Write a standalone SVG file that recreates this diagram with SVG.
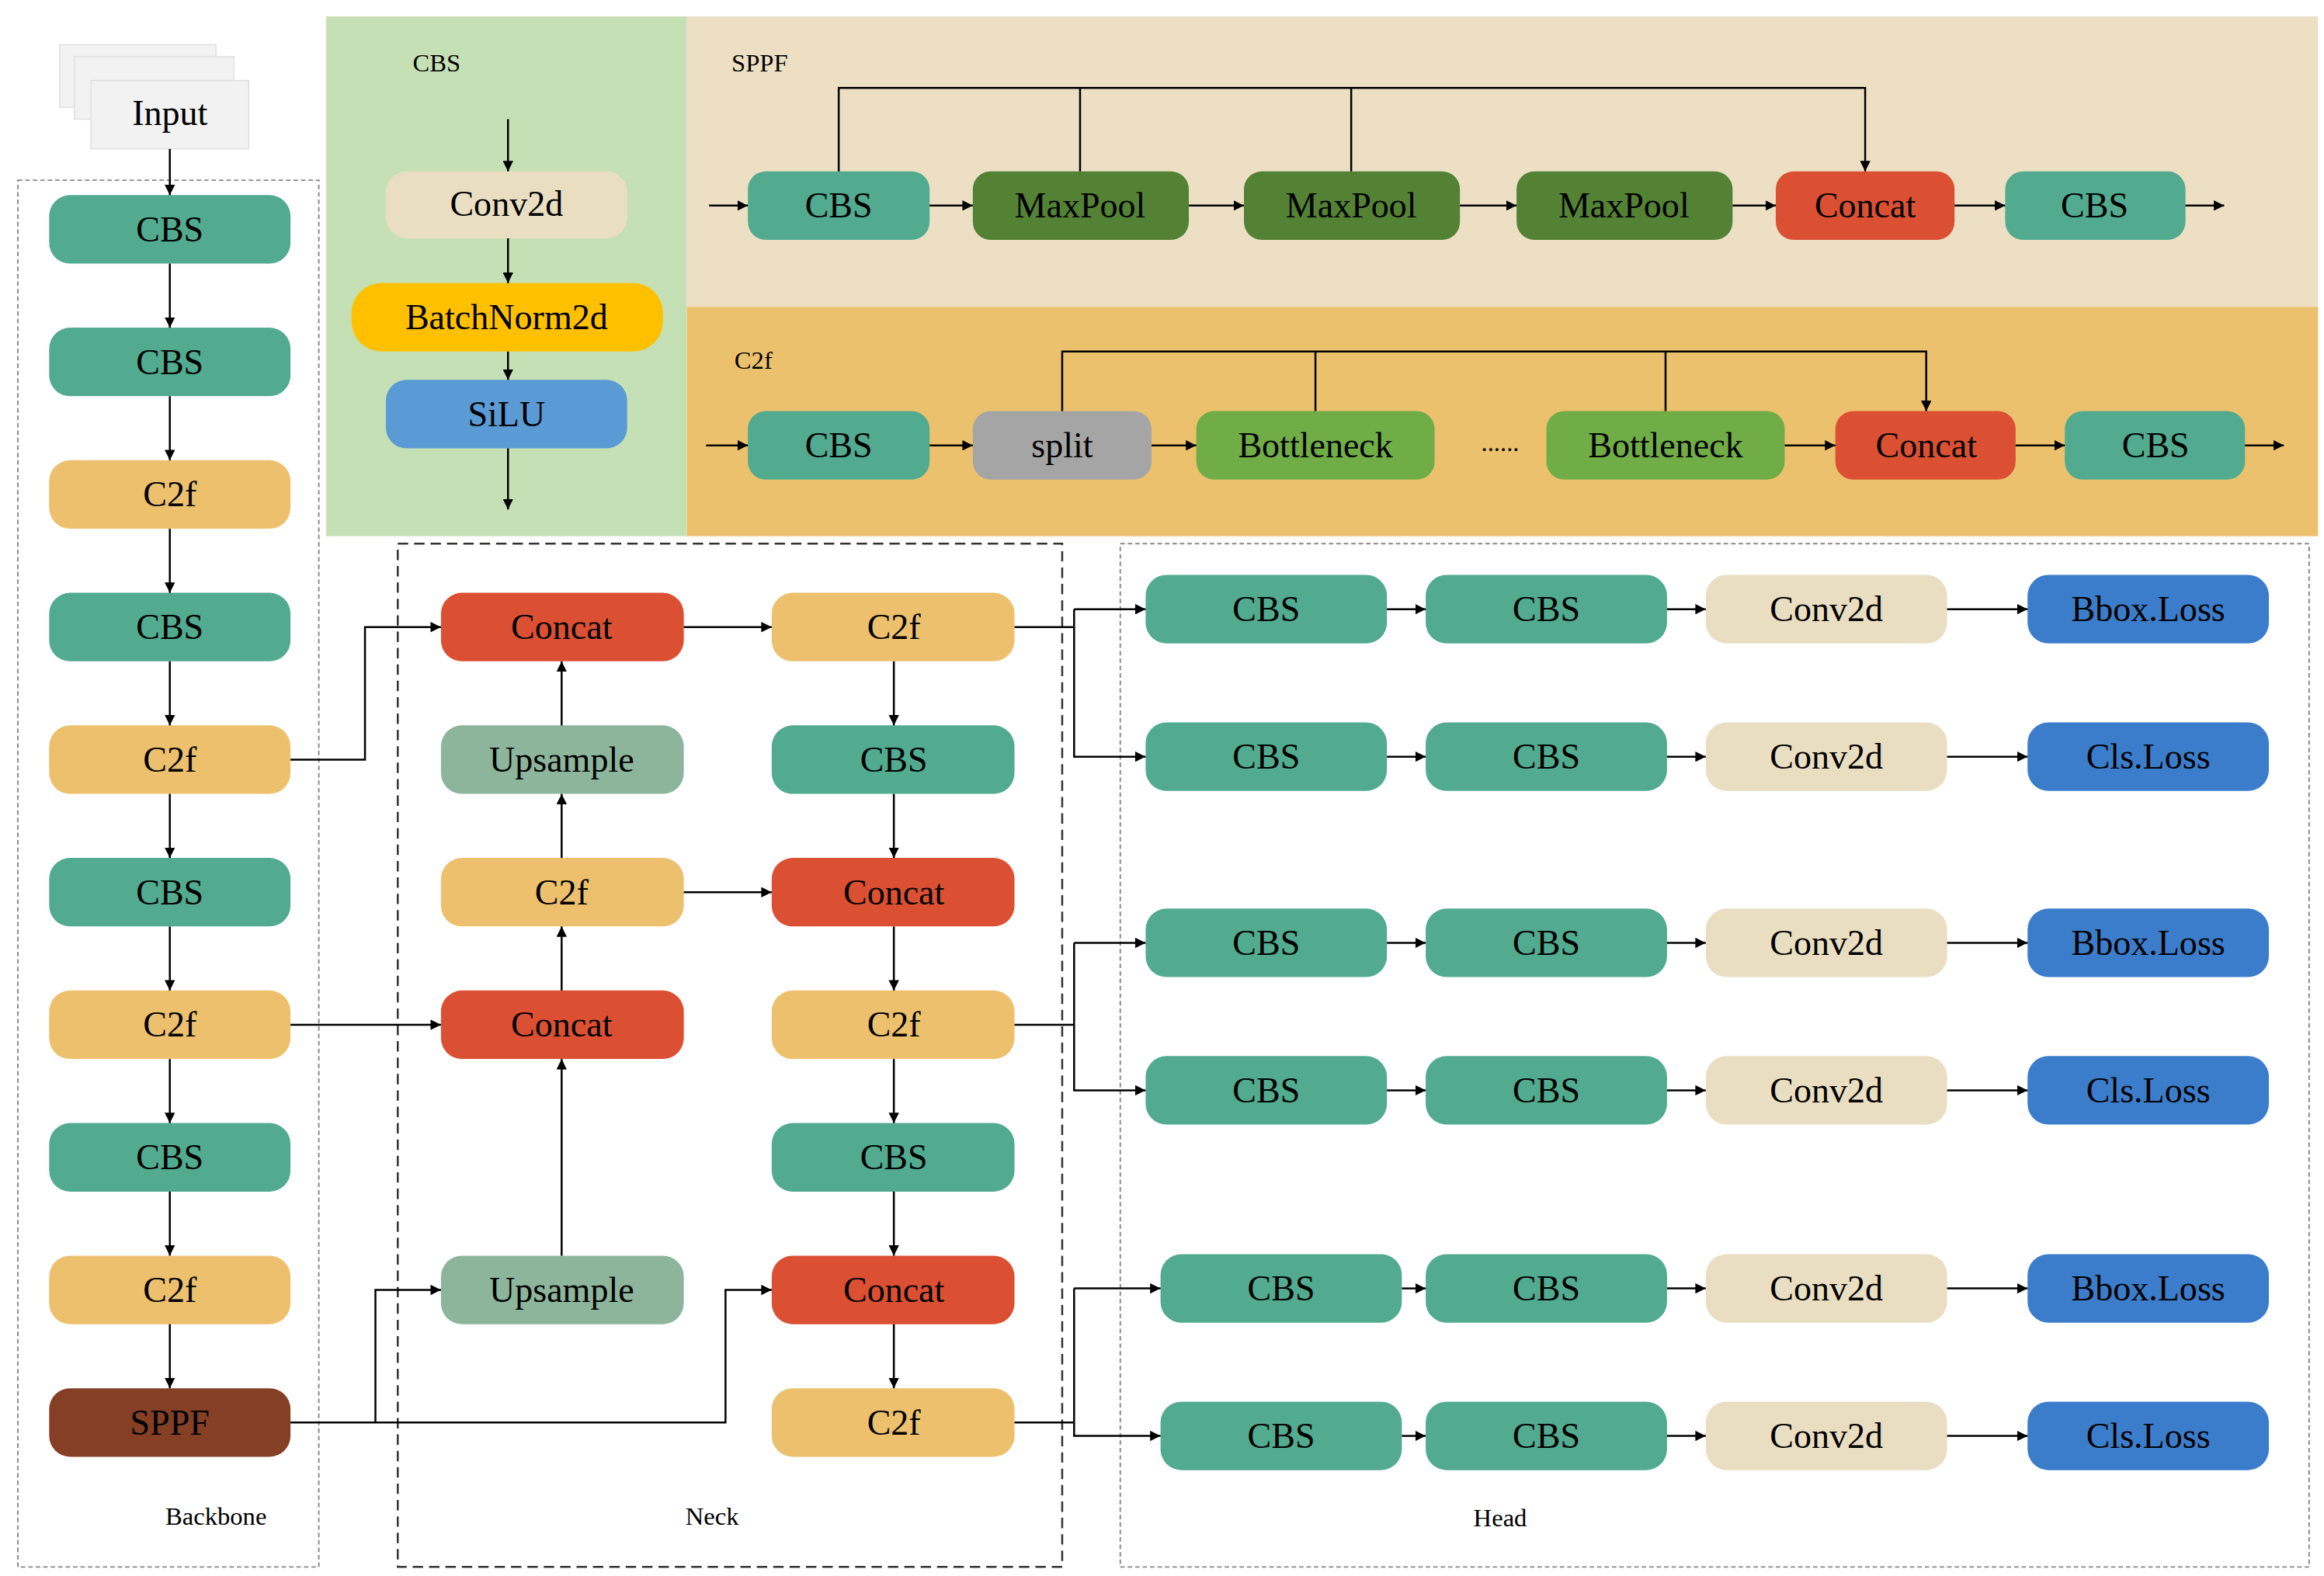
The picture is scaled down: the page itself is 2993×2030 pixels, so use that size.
<svg xmlns="http://www.w3.org/2000/svg" width="2993" height="2030" viewBox="0 0 2993 2030">
<defs>
<marker id="ah" viewBox="0 0 10 10" refX="10" refY="5" markerWidth="7" markerHeight="7" markerUnits="userSpaceOnUse" orient="auto"><path d="M0,0 L10,5 L0,10 z" fill="#000"/></marker>
<style>
text{font-family:"Liberation Serif",serif;fill:#000;text-anchor:middle;dominant-baseline:central}
.t{font-size:24px}
.s{font-size:17px;text-anchor:start}
.c{font-size:17px}
.cbs{fill:#52AB8F}.c2f{fill:#EDC06E}.cat{fill:#DB5033}.up{fill:#8DB59B}.cv{fill:#EADEC2}.bn{fill:#FFC000}.si{fill:#5B9BD5}.ls{fill:#3C7DCB}.mp{fill:#548235}.sp{fill:#A5A5A5}.bt{fill:#70AD47}.sppf{fill:#843F25}
.l{stroke:#000;stroke-width:1.3;fill:none}
.a{stroke:#000;stroke-width:1.3;fill:none;marker-end:url(#ah)}
.d{stroke:#888;stroke-width:1;fill:none;stroke-dasharray:3,2}
.dk{stroke:#333;stroke-width:1.3;fill:none;stroke-dasharray:7,4}
</style>
</defs>
<rect width="2993" height="2030" fill="#fff"/>
<g transform="scale(1.9186)">
<g id="panels">
<rect x="219" y="11" width="242" height="349" fill="#C5E0B4"/>
<rect x="461" y="11" width="1095" height="195" fill="#EDDFC4"/>
<rect x="461" y="206" width="1095" height="154" fill="#ECC16D"/>
<text class="s" x="277" y="42">CBS</text>
<text class="s" x="491" y="42">SPPF</text>
<text class="s" x="493" y="242">C2f</text>
<rect class="d" x="12" y="121" width="202" height="931"/>
<rect class="dk" x="267" y="365" width="446" height="687"/>
<rect class="d" x="752" y="365" width="798" height="687"/>
<text class="c" x="145" y="1018">Backbone</text>
<text class="c" x="478" y="1018">Neck</text>
<text class="c" x="1007" y="1019">Head</text>
</g>
<g id="input">
<rect x="40" y="30" width="105" height="42" fill="#F2F2F2" stroke="#ddd" stroke-width="0.7"/>
<rect x="50" y="38" width="107" height="42" fill="#F2F2F2" stroke="#ddd" stroke-width="0.7"/>
<rect x="61" y="54" width="106" height="46" fill="#F2F2F2" stroke="#ddd" stroke-width="0.7"/>
<text class="t" x="114" y="76">Input</text>
</g>
<g id="backbone">
<g id="b1"><rect class="cbs" x="33" y="131" width="162" height="46" rx="14"/><text class="t" x="114" y="154">CBS</text></g>
<g id="b2"><rect class="cbs" x="33" y="220" width="162" height="46" rx="14"/><text class="t" x="114" y="243">CBS</text></g>
<g id="b3"><rect class="c2f" x="33" y="309" width="162" height="46" rx="14"/><text class="t" x="114" y="332">C2f</text></g>
<g id="b4"><rect class="cbs" x="33" y="398" width="162" height="46" rx="14"/><text class="t" x="114" y="421">CBS</text></g>
<g id="b5"><rect class="c2f" x="33" y="487" width="162" height="46" rx="14"/><text class="t" x="114" y="510">C2f</text></g>
<g id="b6"><rect class="cbs" x="33" y="576" width="162" height="46" rx="14"/><text class="t" x="114" y="599">CBS</text></g>
<g id="b7"><rect class="c2f" x="33" y="665" width="162" height="46" rx="14"/><text class="t" x="114" y="688">C2f</text></g>
<g id="b8"><rect class="cbs" x="33" y="754" width="162" height="46" rx="14"/><text class="t" x="114" y="777">CBS</text></g>
<g id="b9"><rect class="c2f" x="33" y="843" width="162" height="46" rx="14"/><text class="t" x="114" y="866">C2f</text></g>
<g id="b10"><rect class="sppf" x="33" y="932" width="162" height="46" rx="14"/><text class="t" x="114" y="955">SPPF</text></g>
</g>
<g id="cbsdef">
<g id="k1"><rect class="cv" x="259" y="115" width="162" height="45" rx="14"/><text class="t" x="340" y="137">Conv2d</text></g>
<g id="k2"><rect class="bn" x="236" y="190" width="209" height="46" rx="20"/><text class="t" x="340" y="213">BatchNorm2d</text></g>
<g id="k3"><rect class="si" x="259" y="255" width="162" height="46" rx="14"/><text class="t" x="340" y="278">SiLU</text></g>
</g>
<g id="sppfdef">
<g id="p1"><rect class="cbs" x="502" y="115" width="122" height="46" rx="12"/><text class="t" x="563" y="138">CBS</text></g>
<g id="p2"><rect class="mp" x="653" y="115" width="145" height="46" rx="12"/><text class="t" x="725" y="138">MaxPool</text></g>
<g id="p3"><rect class="mp" x="835" y="115" width="145" height="46" rx="12"/><text class="t" x="907" y="138">MaxPool</text></g>
<g id="p4"><rect class="mp" x="1018" y="115" width="145" height="46" rx="12"/><text class="t" x="1090" y="138">MaxPool</text></g>
<g id="p5"><rect class="cat" x="1192" y="115" width="120" height="46" rx="12"/><text class="t" x="1252" y="138">Concat</text></g>
<g id="p6"><rect class="cbs" x="1346" y="115" width="121" height="46" rx="12"/><text class="t" x="1406" y="138">CBS</text></g>
</g>
<g id="c2fdef">
<g id="f1"><rect class="cbs" x="502" y="276" width="122" height="46" rx="12"/><text class="t" x="563" y="299">CBS</text></g>
<g id="f2"><rect class="sp" x="653" y="276" width="120" height="46" rx="12"/><text class="t" x="713" y="299">split</text></g>
<g id="f3"><rect class="bt" x="803" y="276" width="160" height="46" rx="12"/><text class="t" x="883" y="299">Bottleneck</text></g>
<text class="c" x="1007" y="297">......</text>
<g id="f4"><rect class="bt" x="1038" y="276" width="160" height="46" rx="12"/><text class="t" x="1118" y="299">Bottleneck</text></g>
<g id="f5"><rect class="cat" x="1232" y="276" width="121" height="46" rx="12"/><text class="t" x="1293" y="299">Concat</text></g>
<g id="f6"><rect class="cbs" x="1386" y="276" width="121" height="46" rx="12"/><text class="t" x="1447" y="299">CBS</text></g>
</g>
<g id="neck">
<g id="n1"><rect class="cat" x="296" y="398" width="163" height="46" rx="14"/><text class="t" x="377" y="421">Concat</text></g>
<g id="n2"><rect class="up" x="296" y="487" width="163" height="46" rx="14"/><text class="t" x="377" y="510">Upsample</text></g>
<g id="n3"><rect class="c2f" x="296" y="576" width="163" height="46" rx="14"/><text class="t" x="377" y="599">C2f</text></g>
<g id="n4"><rect class="cat" x="296" y="665" width="163" height="46" rx="14"/><text class="t" x="377" y="688">Concat</text></g>
<g id="n5"><rect class="up" x="296" y="843" width="163" height="46" rx="14"/><text class="t" x="377" y="866">Upsample</text></g>
<g id="m1"><rect class="c2f" x="518" y="398" width="163" height="46" rx="14"/><text class="t" x="600" y="421">C2f</text></g>
<g id="m2"><rect class="cbs" x="518" y="487" width="163" height="46" rx="14"/><text class="t" x="600" y="510">CBS</text></g>
<g id="m3"><rect class="cat" x="518" y="576" width="163" height="46" rx="14"/><text class="t" x="600" y="599">Concat</text></g>
<g id="m4"><rect class="c2f" x="518" y="665" width="163" height="46" rx="14"/><text class="t" x="600" y="688">C2f</text></g>
<g id="m5"><rect class="cbs" x="518" y="754" width="163" height="46" rx="14"/><text class="t" x="600" y="777">CBS</text></g>
<g id="m6"><rect class="cat" x="518" y="843" width="163" height="46" rx="14"/><text class="t" x="600" y="866">Concat</text></g>
<g id="m7"><rect class="c2f" x="518" y="932" width="163" height="46" rx="14"/><text class="t" x="600" y="955">C2f</text></g>
</g>
<g id="head">
<g id="h1"><rect class="cbs" x="769" y="386" width="162" height="46" rx="14"/><text class="t" x="850" y="409">CBS</text><rect class="cbs" x="957" y="386" width="162" height="46" rx="14"/><text class="t" x="1038" y="409">CBS</text><rect class="cv" x="1145" y="386" width="162" height="46" rx="14"/><text class="t" x="1226" y="409">Conv2d</text><rect class="ls" x="1361" y="386" width="162" height="46" rx="14"/><text class="t" x="1442" y="409">Bbox.Loss</text></g>
<g id="h2"><rect class="cbs" x="769" y="485" width="162" height="46" rx="14"/><text class="t" x="850" y="508">CBS</text><rect class="cbs" x="957" y="485" width="162" height="46" rx="14"/><text class="t" x="1038" y="508">CBS</text><rect class="cv" x="1145" y="485" width="162" height="46" rx="14"/><text class="t" x="1226" y="508">Conv2d</text><rect class="ls" x="1361" y="485" width="162" height="46" rx="14"/><text class="t" x="1442" y="508">Cls.Loss</text></g>
<g id="h3"><rect class="cbs" x="769" y="610" width="162" height="46" rx="14"/><text class="t" x="850" y="633">CBS</text><rect class="cbs" x="957" y="610" width="162" height="46" rx="14"/><text class="t" x="1038" y="633">CBS</text><rect class="cv" x="1145" y="610" width="162" height="46" rx="14"/><text class="t" x="1226" y="633">Conv2d</text><rect class="ls" x="1361" y="610" width="162" height="46" rx="14"/><text class="t" x="1442" y="633">Bbox.Loss</text></g>
<g id="h4"><rect class="cbs" x="769" y="709" width="162" height="46" rx="14"/><text class="t" x="850" y="732">CBS</text><rect class="cbs" x="957" y="709" width="162" height="46" rx="14"/><text class="t" x="1038" y="732">CBS</text><rect class="cv" x="1145" y="709" width="162" height="46" rx="14"/><text class="t" x="1226" y="732">Conv2d</text><rect class="ls" x="1361" y="709" width="162" height="46" rx="14"/><text class="t" x="1442" y="732">Cls.Loss</text></g>
<g id="h5"><rect class="cbs" x="779" y="842" width="162" height="46" rx="14"/><text class="t" x="860" y="865">CBS</text><rect class="cbs" x="957" y="842" width="162" height="46" rx="14"/><text class="t" x="1038" y="865">CBS</text><rect class="cv" x="1145" y="842" width="162" height="46" rx="14"/><text class="t" x="1226" y="865">Conv2d</text><rect class="ls" x="1361" y="842" width="162" height="46" rx="14"/><text class="t" x="1442" y="865">Bbox.Loss</text></g>
<g id="h6"><rect class="cbs" x="779" y="941" width="162" height="46" rx="14"/><text class="t" x="860" y="964">CBS</text><rect class="cbs" x="957" y="941" width="162" height="46" rx="14"/><text class="t" x="1038" y="964">CBS</text><rect class="cv" x="1145" y="941" width="162" height="46" rx="14"/><text class="t" x="1226" y="964">Conv2d</text><rect class="ls" x="1361" y="941" width="162" height="46" rx="14"/><text class="t" x="1442" y="964">Cls.Loss</text></g>
</g>
<g id="connectors">
<path class="a" d="M114,100V131"/>
<path class="a" d="M114,177V220"/><path class="a" d="M114,266V309"/><path class="a" d="M114,355V398"/><path class="a" d="M114,444V487"/><path class="a" d="M114,533V576"/><path class="a" d="M114,622V665"/><path class="a" d="M114,711V754"/><path class="a" d="M114,800V843"/><path class="a" d="M114,889V932"/>
<path class="a" d="M341,80V115"/><path class="a" d="M341,160V190"/><path class="a" d="M341,236V255"/><path class="a" d="M341,301V342"/>
<path class="a" d="M476,138H502"/><path class="a" d="M624,138H653"/><path class="a" d="M798,138H835"/><path class="a" d="M980,138H1018"/><path class="a" d="M1163,138H1192"/><path class="a" d="M1312,138H1346"/><path class="a" d="M1467,138H1493"/>
<path class="a" d="M563,115V59H1252V115"/><path class="l" d="M725,59V115M907,59V115"/>
<path class="a" d="M474,299H502"/><path class="a" d="M624,299H653"/><path class="a" d="M773,299H803"/><path class="a" d="M1198,299H1232"/><path class="a" d="M1353,299H1386"/><path class="a" d="M1507,299H1533"/>
<path class="a" d="M713,276V236H1293V276"/><path class="l" d="M883,236V276M1118,236V276"/>
<path class="a" d="M195,510H245V421H296"/>
<path class="a" d="M195,688H296"/>
<path class="a" d="M195,955H487V866H518"/>
<path class="a" d="M252,955V866H296"/>
<path class="a" d="M377,487V444"/><path class="a" d="M377,576V533"/><path class="a" d="M377,665V622"/><path class="a" d="M377,843V711"/>
<path class="a" d="M459,421H518"/><path class="a" d="M459,599H518"/>
<path class="a" d="M600,444V487"/><path class="a" d="M600,533V576"/><path class="a" d="M600,622V665"/><path class="a" d="M600,711V754"/><path class="a" d="M600,800V843"/><path class="a" d="M600,889V932"/>
<path class="l" d="M681,421H721"/><path class="a" d="M721,409V508H769"/><path class="a" d="M721,409H769"/>
<path class="l" d="M681,688H721"/><path class="a" d="M721,633V732H769"/><path class="a" d="M721,633H769"/>
<path class="l" d="M681,955H721" stroke-width="2.5"/><path class="a" d="M721,865V964H779"/><path class="a" d="M721,865H779"/>
<path class="a" d="M931,409H957"/><path class="a" d="M1119,409H1145"/><path class="a" d="M1307,409H1361"/>
<path class="a" d="M931,508H957"/><path class="a" d="M1119,508H1145"/><path class="a" d="M1307,508H1361"/>
<path class="a" d="M931,633H957"/><path class="a" d="M1119,633H1145"/><path class="a" d="M1307,633H1361"/>
<path class="a" d="M931,732H957"/><path class="a" d="M1119,732H1145"/><path class="a" d="M1307,732H1361"/>
<path class="a" d="M941,865H957"/><path class="a" d="M1119,865H1145"/><path class="a" d="M1307,865H1361"/>
<path class="a" d="M941,964H957"/><path class="a" d="M1119,964H1145"/><path class="a" d="M1307,964H1361"/>
</g>
</g>
</svg>
